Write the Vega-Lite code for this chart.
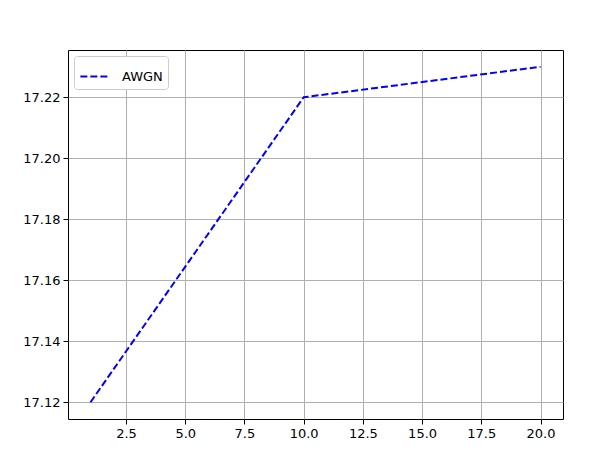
{
  "$schema": "https://vega.github.io/schema/vega-lite/v6.json",
  "autosize": "none",
  "width": 495,
  "height": 369,
  "padding": {"left": 68, "top": 50, "right": 46, "bottom": 49},
  "background": "white",
  "data": {
    "values": [
      {"snr": 1, "value": 17.12, "series": "AWGN"},
      {"snr": 10, "value": 17.22, "series": "AWGN"},
      {"snr": 20, "value": 17.23, "series": "AWGN"}
    ]
  },
  "config": {
    "font": "DejaVu Sans",
    "view": {"stroke": "black", "strokeWidth": 1},
    "axis": {
      "labelFont": "DejaVu Sans",
      "labelFontSize": 13,
      "labelColor": "black",
      "tickColor": "black",
      "tickSize": 5,
      "tickWidth": 1,
      "labelPadding": 3,
      "domain": false,
      "grid": true,
      "gridColor": "#b0b0b0",
      "gridWidth": 1
    }
  },
  "mark": {"type": "line", "strokeWidth": 2, "strokeDash": [7, 3]},
  "encoding": {
    "x": {
      "field": "snr",
      "type": "quantitative",
      "scale": {"domain": [0.05, 20.95], "nice": false, "zero": false},
      "axis": {"values": [2.5, 5, 7.5, 10, 12.5, 15, 17.5, 20], "format": ".1f", "title": null, "labelFlush": false}
    },
    "y": {
      "field": "value",
      "type": "quantitative",
      "scale": {"domain": [17.1145, 17.2355], "nice": false, "zero": false},
      "axis": {"values": [17.12, 17.14, 17.16, 17.18, 17.2, 17.22], "format": ".2f", "title": null, "labelFlush": false}
    },
    "color": {
      "field": "series",
      "type": "nominal",
      "scale": {"range": ["#0000ff"]},
      "legend": {
        "title": null,
        "orient": "top-left",
        "offset": 6,
        "strokeColor": "#cccccc",
        "fillColor": "white",
        "cornerRadius": 3,
        "padding": 5,
        "labelFontSize": 13,
        "labelFont": "DejaVu Sans",
        "labelColor": "black",
        "labelOffset": 12,
        "symbolType": "stroke",
        "symbolSize": 800,
        "symbolStrokeWidth": 2,
        "symbolDash": [7, 3]
      }
    }
  }
}
